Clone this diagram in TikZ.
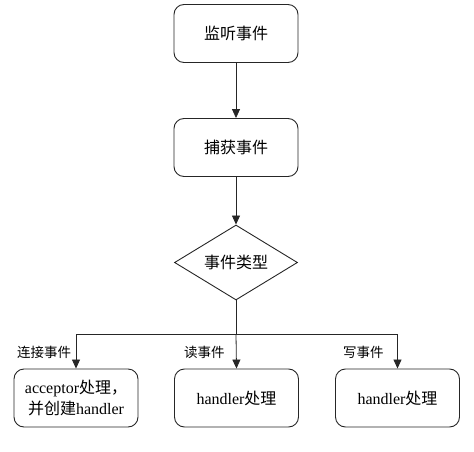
\documentclass[tikz,border=0pt]{standalone}
\usepackage{fontspec}
\setmainfont{Liberation Serif}
\newfontfamily\cjk{Noto Sans CJK SC}
\usetikzlibrary{shapes.geometric,arrows.meta}
\begin{document}
\begin{tikzpicture}[x=1pt,y=-1pt,
  box/.style={draw=black!85,line width=0.9pt,rounded corners=10pt,minimum width=124pt,minimum height=58pt,align=center,font=\fontsize{16}{21}\selectfont},
  dec/.style={draw=black!85,line width=0.9pt,diamond,minimum width=123pt,minimum height=75pt,aspect=1.64,inner sep=0pt,font=\fontsize{16}{20}\selectfont},
  lbl/.style={font=\fontsize{13.5}{15}\selectfont\cjk,anchor=west,inner sep=0pt},
  conn/.style={line width=0.8pt,draw=black!85},
  arr/.style={conn,-{Triangle[length=9pt,width=8pt]}}]
\useasboundingbox (0,0) rectangle (474,452);
\node[box] (listen) at (236,33.5) {\cjk 监听事件};
\node[box] (capture) at (236,147.5) {\cjk 捕获事件};
\node[dec] (type) at (236,262.5) {\cjk 事件类型};
\node[box] (acc) at (76,398) {acceptor{\cjk 处理，}\\{\cjk 并创建}handler};
\node[box] (rd) at (236.5,398) {handler{\cjk 处理}};
\node[box] (wr) at (397.5,398) {handler{\cjk 处理}};
\coordinate (split) at (236,334);
\draw[arr] (listen) -- (capture);
\draw[arr] (capture) -- (type.north);
\draw[conn] (type.south) -- (split);
\draw[arr] (split) -| (acc.north);
\draw[arr] (split) -- (rd.north);
\draw[arr] (split) -| (wr.north);
\node[lbl] (l1) at (17,352) {连接事件};
\node[lbl] (l2) at (184,352) {读事件};
\node[lbl] (l3) at (343,352) {写事件};
\end{tikzpicture}
\end{document}
